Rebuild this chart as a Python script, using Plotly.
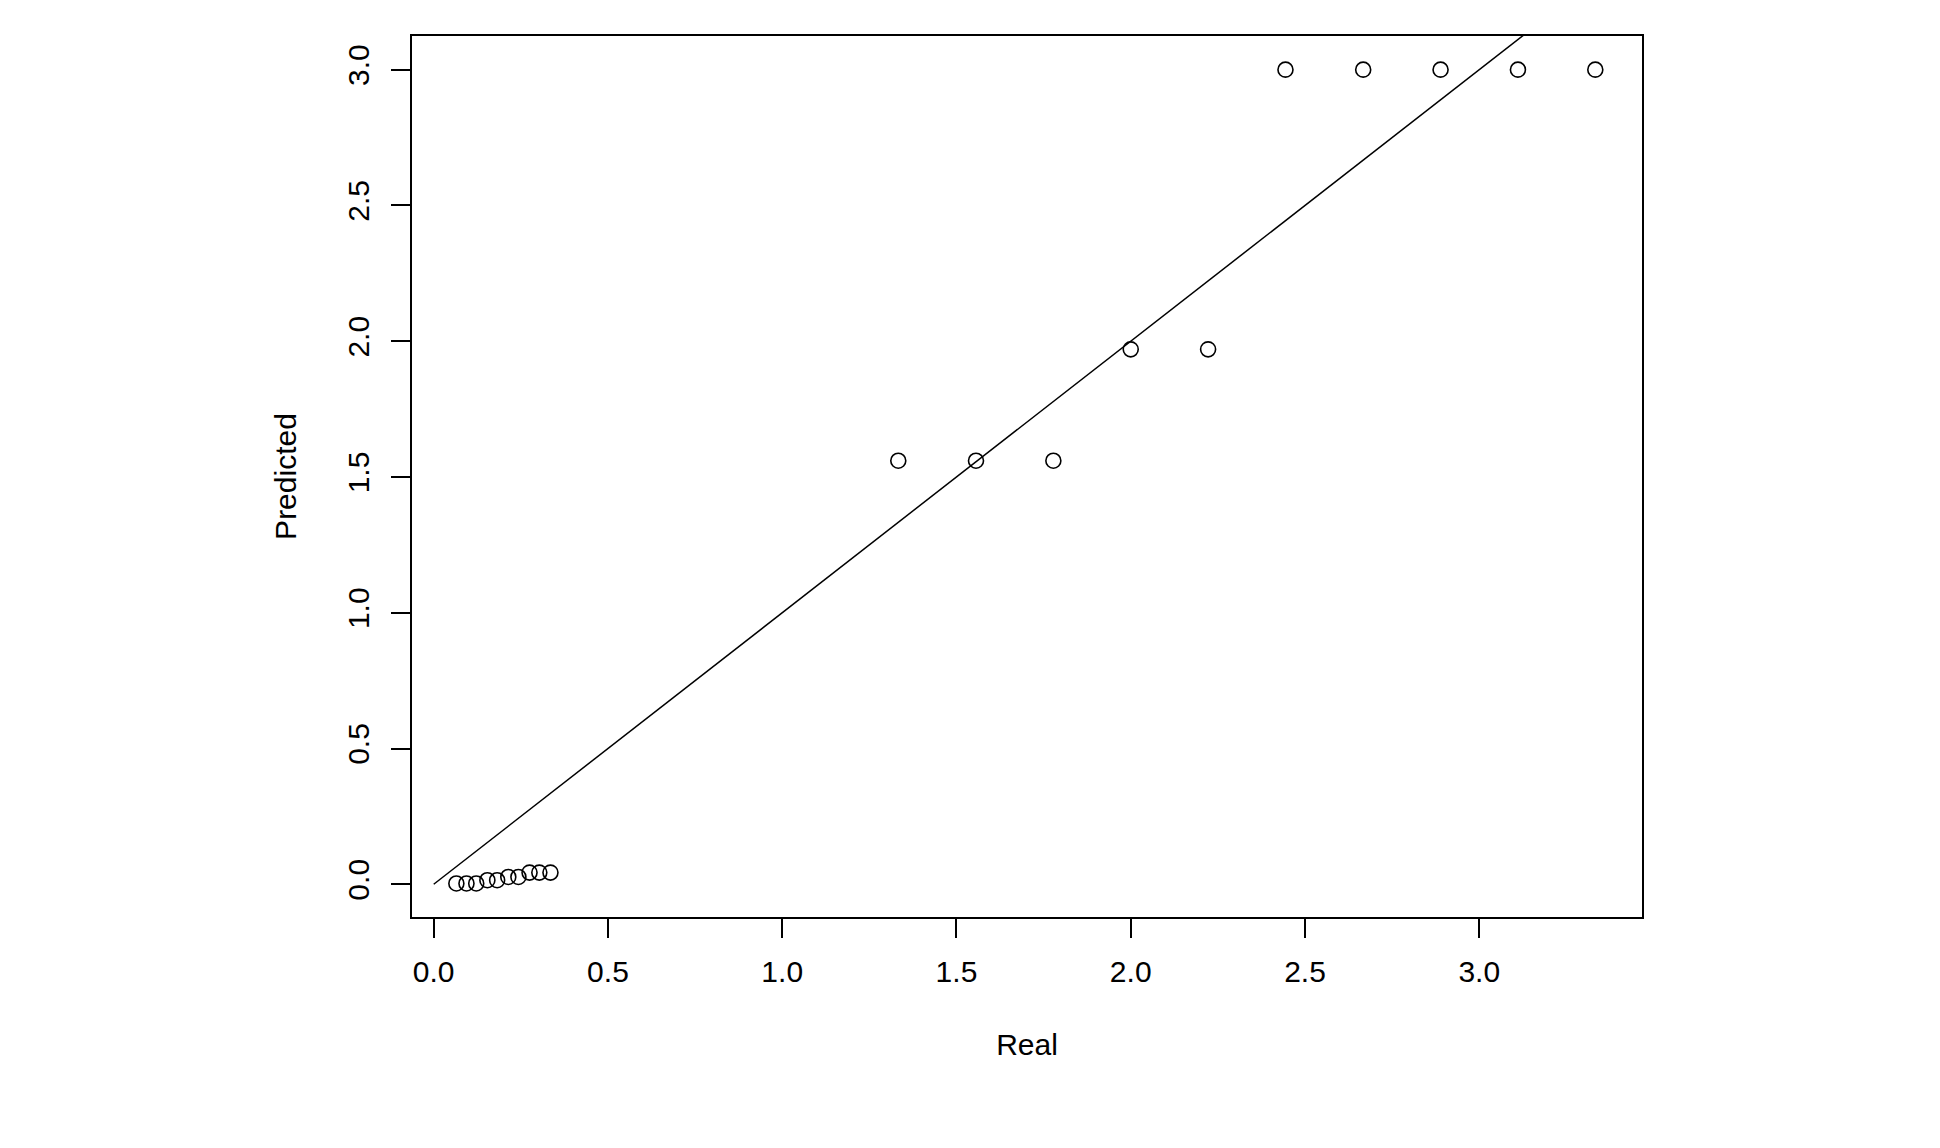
import plotly.graph_objects as go

# Data
real = [0.065, 0.094, 0.122, 0.154, 0.182, 0.214, 0.243, 0.275, 0.303, 0.335,
        1.333, 1.556, 1.778, 2.000, 2.222, 2.444, 2.667, 2.889, 3.111, 3.333]
predicted = [0.003, 0.003, 0.003, 0.015, 0.015, 0.027, 0.027, 0.043, 0.043, 0.043,
             1.56, 1.56, 1.56, 1.97, 1.97, 3.0, 3.0, 3.0, 3.0, 3.0]
ref_line_x = [0.0, 3.6]
ref_line_y = [0.0, 3.6]
x_ticks = [0.0, 0.5, 1.0, 1.5, 2.0, 2.5, 3.0]
y_ticks = [0.0, 0.5, 1.0, 1.5, 2.0, 2.5, 3.0]

FONT = "Liberation Sans, Arial, Helvetica, sans-serif"
FS = 30

fig = go.Figure()
fig.add_trace(go.Scatter(
    x=ref_line_x, y=ref_line_y, mode="lines",
    line=dict(color="black", width=1.5), showlegend=False, hoverinfo="skip"))
fig.add_trace(go.Scatter(
    x=real, y=predicted, mode="markers",
    marker=dict(symbol="circle-open", size=15, color="black", line=dict(width=1.6)),
    showlegend=False))

axis_common = dict(
    showgrid=False, zeroline=False, showline=True, mirror=True,
    linecolor="black", linewidth=1.5,
    ticks="outside", ticklen=19, tickwidth=1.5, tickcolor="black",
    tickfont=dict(family=FONT, size=FS, color="black"),
    tickformat=".1f",
)

fig.update_layout(
    width=1940, height=1148,
    paper_bgcolor="white", plot_bgcolor="white",
    margin=dict(l=404, r=306, t=28, b=239, autoexpand=False),
    font=dict(family=FONT, size=FS, color="black"),
    xaxis=dict(range=[-0.0623, 3.467], tickvals=x_ticks,
               title=dict(text="Real", standoff=47, font=dict(family=FONT, size=FS)),
               ticklabelstandoff=8, automargin=False, **axis_common),
    yaxis=dict(range=[-0.1205, 3.124], tickvals=y_ticks, tickangle=-90,
               title=dict(text="Predicted", standoff=37, font=dict(family=FONT, size=FS)),
               ticklabelstandoff=10, automargin=False, **axis_common),
)

fig.write_html("out.html")
